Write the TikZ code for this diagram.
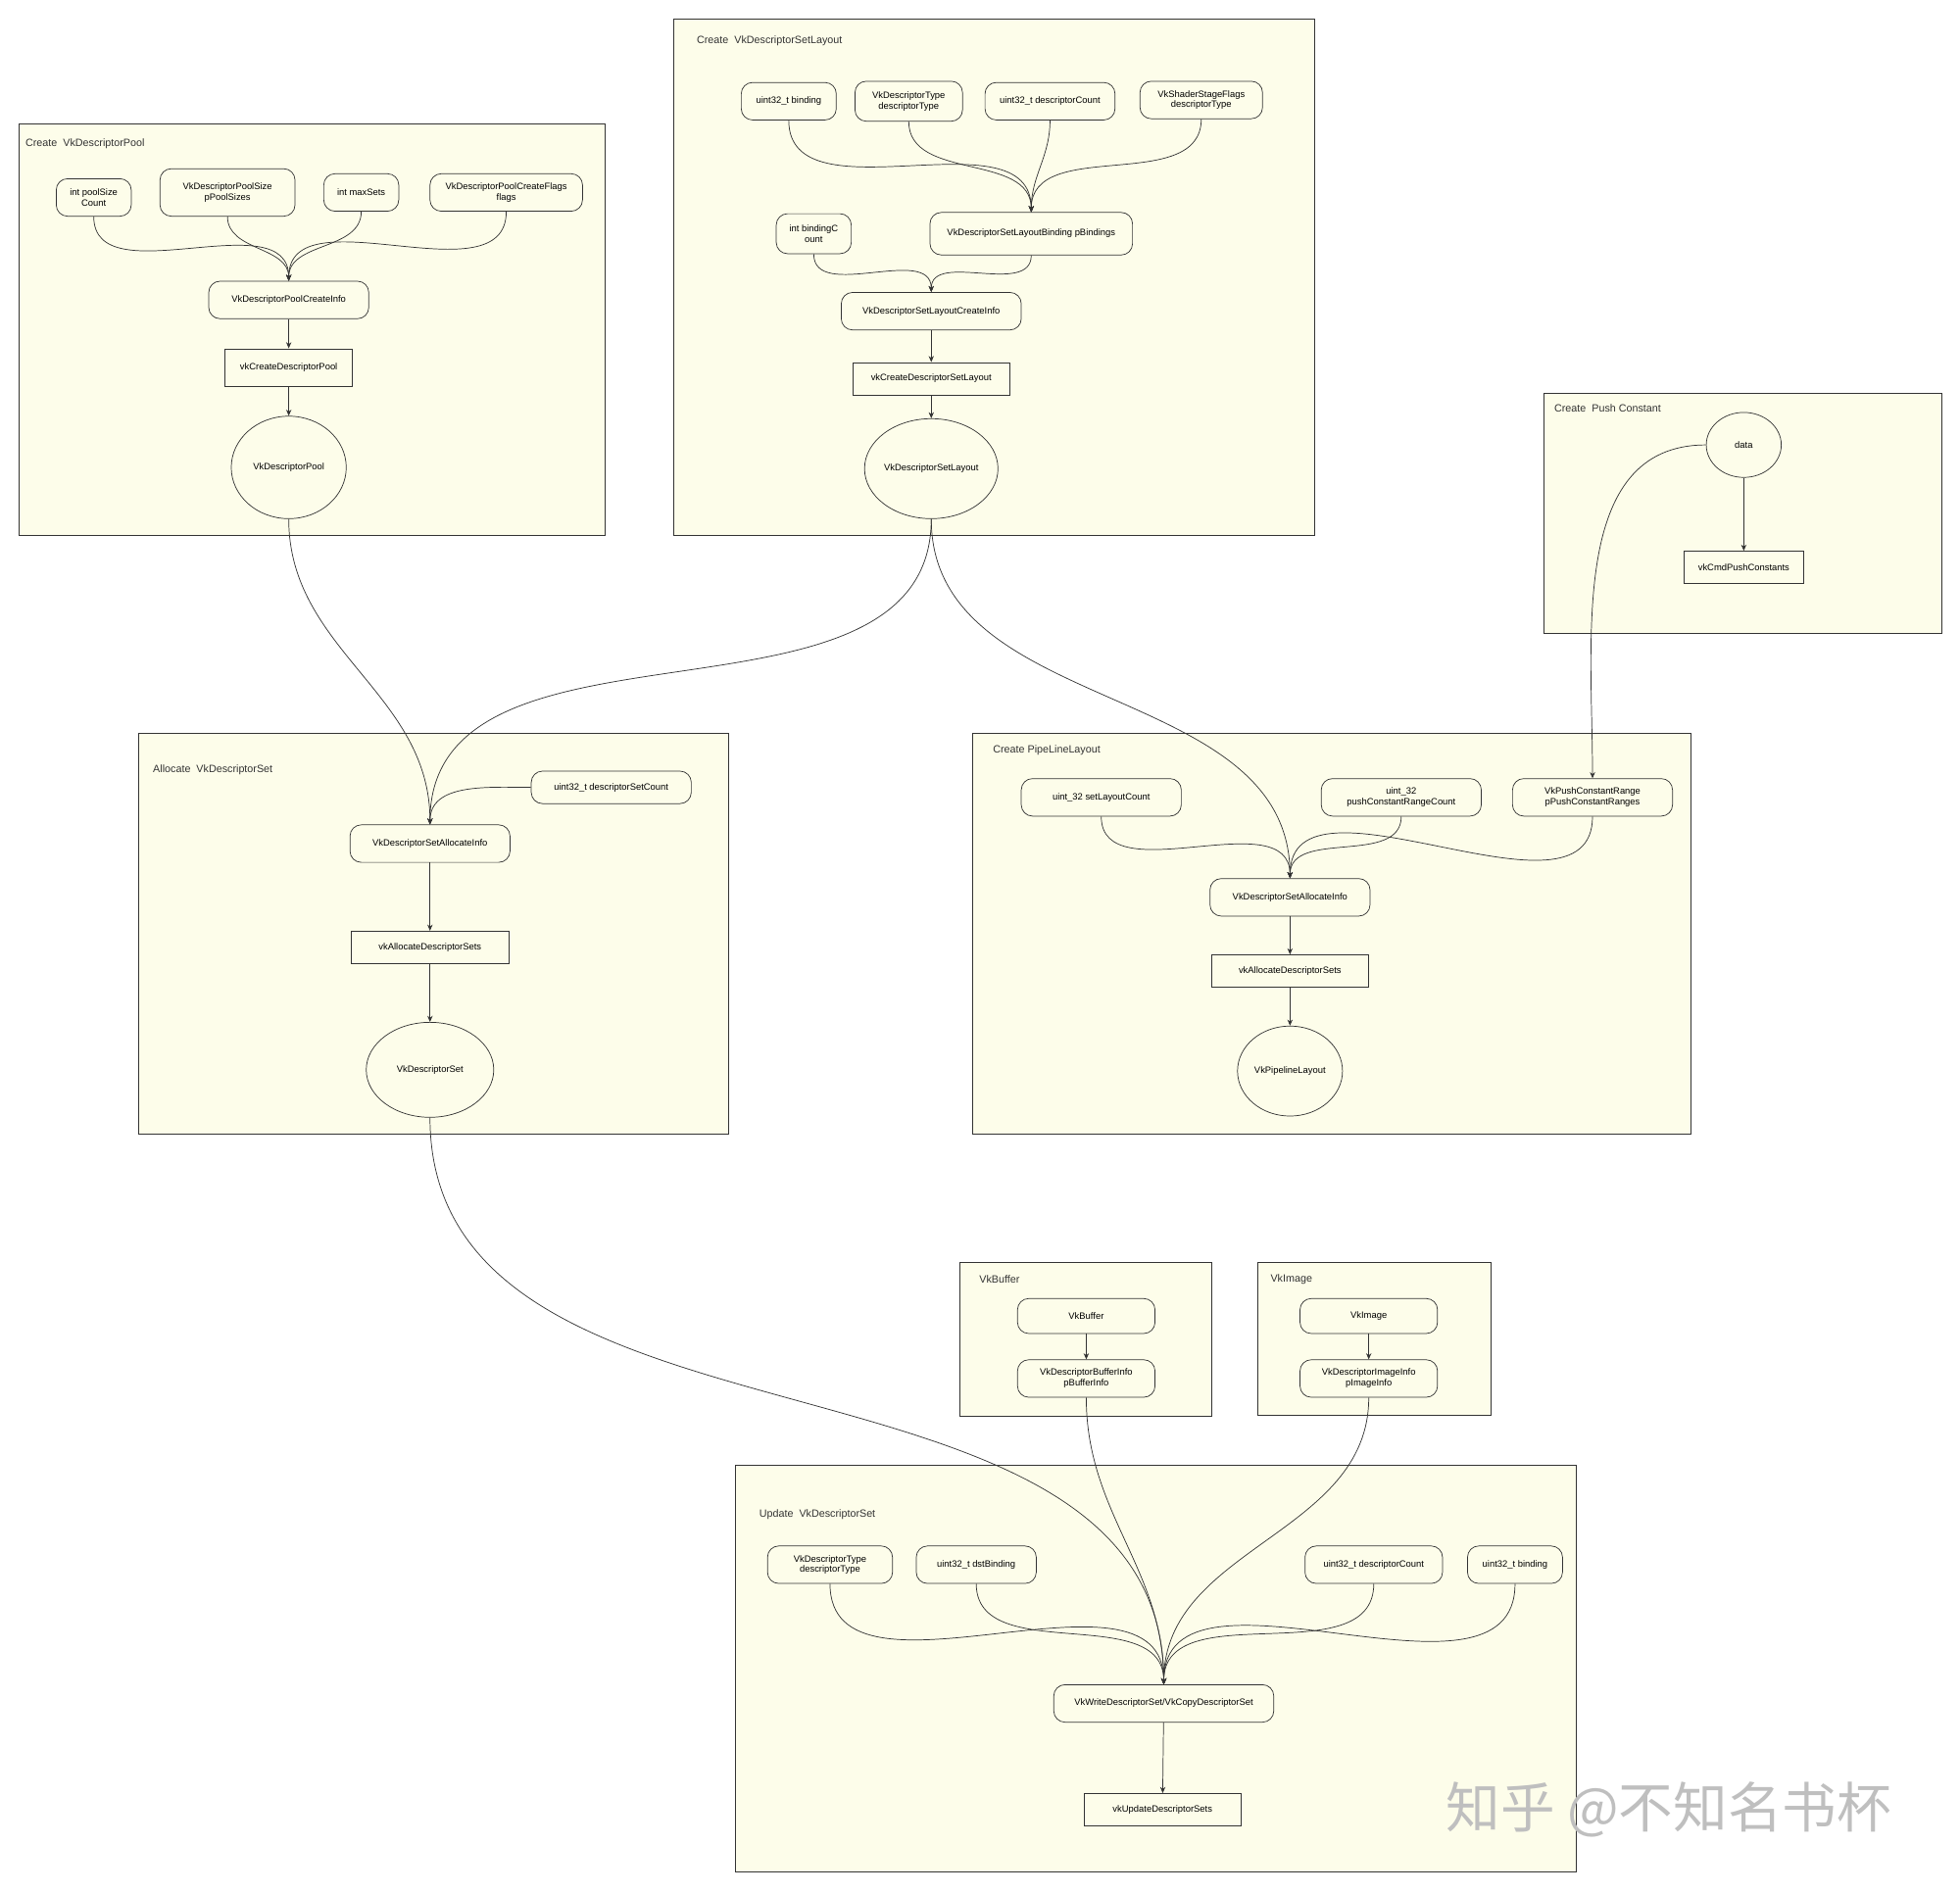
\documentclass[tikz,border=0pt]{standalone}
\usepackage{fontspec}
\setmainfont{Liberation Sans}
\newfontfamily\cjk{Noto Sans CJK SC}
\usetikzlibrary{arrows.meta}
\definecolor{cream}{HTML}{FDFDEA}
\definecolor{ln}{HTML}{333333}
\tikzset{
 cl/.style={draw=ln,fill=cream,line width=0.8pt},
 cllab/.style={anchor=west,font=\fontsize{12}{14}\selectfont,text=ln},
 rn/.style={draw=ln,fill=cream,rounded corners=0.45cm,line width=0.8pt,align=center,font=\fontsize{10.5}{12}\selectfont,inner sep=1pt},
 rb/.style={draw=ln,fill=cream,line width=0.8pt,align=center,font=\fontsize{10.5}{12}\selectfont,inner sep=1pt},
 el/.style={draw=ln,fill=cream,ellipse,line width=0.8pt,align=center,font=\fontsize{10.5}{12}\selectfont,inner sep=0pt},
 ed/.style={draw=ln,line width=0.8pt,-{Stealth[length=7pt,width=6pt]}}
}
\usetikzlibrary{shapes.geometric}
\newcommand\rn[6]{\node[rn,minimum width=#4*0.05cm,minimum height=#5*0.05cm] (#1) at (#2,#3) {#6};}
\newcommand\rb[6]{\node[rb,minimum width=#4*0.05cm,minimum height=#5*0.05cm] (#1) at (#2,#3) {#6};}
\newcommand\el[6]{\node[el,minimum width=#4*0.05cm,minimum height=#5*0.05cm] (#1) at (#2,#3) {#6};}
\begin{document}
\begin{tikzpicture}[x=0.05cm,y=-0.05cm]
\useasboundingbox[fill=white] (0,0) rectangle (1568,1514);
% clusters
\draw[cl] (15,99) rectangle (484,428); \node[cllab] at (18,115) {Create\ \ VkDescriptorPool};
\draw[cl] (539,15) rectangle (1052,428); \node[cllab] at (555,33) {Create\ \ VkDescriptorSetLayout};
\draw[cl] (1235,315) rectangle (1553,507); \node[cllab] at (1241,327) {Create\ \ Push Constant};
\draw[cl] (111,587) rectangle (583,907); \node[cllab] at (120,616) {Allocate\ \ VkDescriptorSet};
\draw[cl] (778,587) rectangle (1353,907); \node[cllab] at (792,600) {Create PipeLineLayout};
\draw[cl] (768,1010) rectangle (969,1133); \node[cllab] at (781,1024) {VkBuffer};
\draw[cl] (1006,1010) rectangle (1193,1132); \node[cllab] at (1014,1024) {VkImage};
\draw[cl] (588,1172) rectangle (1261,1498); \node[cllab] at (605,1212) {Update\ \ VkDescriptorSet};
% pool
\rn{ps}{75}{158}{60}{30}{int poolSize\\Count}
\rn{pps}{182}{154}{108}{38}{VkDescriptorPoolSize\\pPoolSizes}
\rn{ms}{289}{154}{60}{30}{int maxSets}
\rn{fl}{405}{154}{122}{30}{VkDescriptorPoolCreateFlags\\flags}
\rn{ci}{231}{240}{128}{30}{VkDescriptorPoolCreateInfo}
\rb{fn}{231}{294}{102}{30}{vkCreateDescriptorPool}
\el{pool}{231}{374}{92}{82}{VkDescriptorPool}
% layout
\rn{b}{631}{81}{76}{30}{uint32\_t binding}
\rn{dt}{727}{81}{86}{32}{VkDescriptorType\\descriptorType}
\rn{dc}{840}{81}{104}{30}{uint32\_t descriptorCount}
\rn{sf}{961}{80}{98}{30}{VkShaderStageFlags\\descriptorType}
\rn{bc}{651}{187}{60}{32}{int bindingC\\ount}
\rn{lb}{825}{187}{162}{34}{VkDescriptorSetLayoutBinding pBindings}
\rn{lci}{745}{249}{144}{30}{VkDescriptorSetLayoutCreateInfo}
\rb{lfn}{745}{303}{126}{26}{vkCreateDescriptorSetLayout}
\el{lay}{745}{375}{100}{80}{VkDescriptorSetLayout}
% push constant
\el{data}{1395}{356}{60}{52}{data}
\rb{pc}{1395}{454}{96}{26}{vkCmdPushConstants}
% allocate
\rn{sc}{489}{630}{128}{26}{uint32\_t descriptorSetCount}
\rn{ai}{344}{675}{128}{30}{VkDescriptorSetAllocateInfo}
\rb{afn}{344}{758}{126}{26}{vkAllocateDescriptorSets}
\el{set}{344}{856}{102}{76}{VkDescriptorSet}
% pipeline layout
\rn{slc}{881}{638}{128}{30}{uint\_32 setLayoutCount}
\rn{prc}{1121}{638}{128}{30}{uint\_32\\pushConstantRangeCount}
\rn{pcr}{1274}{638}{128}{30}{VkPushConstantRange\\pPushConstantRanges}
\rn{pai}{1032}{718}{128}{30}{VkDescriptorSetAllocateInfo}
\rb{pfn}{1032}{777}{126}{26}{vkAllocateDescriptorSets}
\el{pl}{1032}{857}{84}{72}{VkPipelineLayout}
% buffer / image
\rn{buf}{869}{1053}{110}{28}{VkBuffer}
\rn{bi}{869}{1103}{110}{30}{VkDescriptorBufferInfo\\pBufferInfo}
\rn{img}{1095}{1053}{110}{28}{VkImage}
\rn{ii}{1095}{1103}{110}{30}{VkDescriptorImageInfo\\pImageInfo}
% update
\rn{udt}{664}{1252}{100}{30}{VkDescriptorType\\descriptorType}
\rn{ub}{781}{1252}{96}{30}{uint32\_t dstBinding}
\rn{udc}{1099}{1252}{110}{30}{uint32\_t descriptorCount}
\rn{ubi}{1212}{1252}{76}{30}{uint32\_t binding}
\rn{w}{931}{1363}{176}{30}{VkWriteDescriptorSet/VkCopyDescriptorSet}
\rb{ufn}{930}{1448}{126}{26}{vkUpdateDescriptorSets}
% edges
\foreach \s in {ps,pps,ms,fl} \draw[ed] (\s.south) to[out=-90,in=90] (ci.north);
\draw[ed] (ci) -- (fn); \draw[ed] (fn) -- (pool);
\foreach \s in {b,dt,dc,sf} \draw[ed] (\s.south) to[out=-90,in=90] (lb.north);
\foreach \s in {bc,lb} \draw[ed] (\s.south) to[out=-90,in=90] (lci.north);
\draw[ed] (lci) -- (lfn); \draw[ed] (lfn) -- (lay);
\draw[ed] (data) -- (pc);
\draw[ed] (data.west) to[out=180,in=90] (pcr.north);
\draw[ed] (pool.south) to[out=-90,in=90] (ai.north);
\draw[ed] (lay.south) to[out=-90,in=90] (ai.north);
\draw[ed] (lay.south) to[out=-90,in=90] (pai.north);
\draw[ed] (sc.west) to[out=180,in=90] (ai.north);
\draw[ed] (ai) -- (afn); \draw[ed] (afn) -- (set);
\foreach \s in {slc,prc,pcr} \draw[ed] (\s.south) to[out=-90,in=90] (pai.north);
\draw[ed] (pai) -- (pfn); \draw[ed] (pfn) -- (pl);
\draw[ed] (buf) -- (bi); \draw[ed] (img) -- (ii);
\foreach \s in {set,bi,ii,udt,ub,udc,ubi} \draw[ed] (\s.south) to[out=-90,in=90] (w.north);
\draw[ed] (w) -- (ufn);
% watermark
\node[text=black!25,font=\cjk\fontsize{62}{64}\selectfont] (wm) at (1335,1448) {知乎 @不知名书杯};
\end{tikzpicture}
\end{document}
